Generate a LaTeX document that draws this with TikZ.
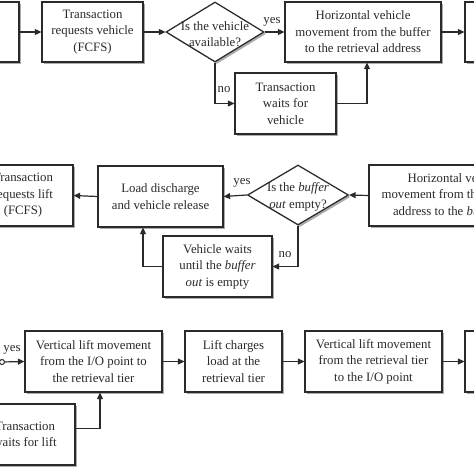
\documentclass[tikz,border=0pt]{standalone}
\usepackage{fontspec}
\setmainfont{Liberation Serif}
\usetikzlibrary{shapes.geometric,arrows.meta,shadows}
\definecolor{ink}{HTML}{2A2A2A}
\begin{document}
\begin{tikzpicture}[x=1pt,y=-1pt,
  font=\fontsize{12.8}{16.5}\selectfont,
  every node/.style={text=ink},
  shad/.style={drop shadow={shadow xshift=2pt, shadow yshift=-2pt, fill=gray!65, opacity=1}},
  box/.style={draw=ink, line width=1.25pt, fill=white, align=center, inner sep=0pt, shad},
  dia/.style={diamond, draw=ink, line width=1.25pt, fill=white, inner sep=0pt, shad},
  txt/.style={align=center, inner sep=0pt},
  arr/.style={draw=ink, line width=1.2pt, -{Triangle[length=6.5pt,width=6pt]}},
  lbl/.style={inner sep=0pt}]
\useasboundingbox (0,0) rectangle (474,474);
\clip (0,0) rectangle (474,474);
\fill[white] (0,0) rectangle (474,474);

% top row
\node[box, minimum width=79, minimum height=60] (A) at (-20.5,32) {};
\node[box, minimum width=101, minimum height=60] (B) at (92.5,32) {Transaction\\requests vehicle\\(FCFS)};
\node[dia, minimum width=98, minimum height=60] (C) at (215,32) {};
\node[txt] (Ct) at (215,34) {Is the vehicle\\available?};
\node[box, minimum width=156, minimum height=60] (D) at (363,32) {Horizontal vehicle\\movement from the buffer\\to the retrieval address};
\node[box, minimum width=80, minimum height=60] (E) at (505,32) {};
\node[box, minimum width=101, minimum height=61] (F) at (285.5,103.5) {Transaction\\waits for\\vehicle};
\node[lbl] (yes1) at (272,22) {yes};
\node[lbl] (no1) at (224,90) {no};

\draw[arr] (A.east) -- (B.west);
\draw[arr] (B.east) -- (C.west);
\draw[arr] (C.east) -- (D.west);
\draw[arr] (D.east) -- (E.west);
\draw[arr] (C.south) |- (F.west);
\draw[arr] (F.east) -| ([xshift=4pt]D.south);

% middle row
\node[box, minimum width=100, minimum height=61] (G) at (23,195.5) {Transaction\\requests lift\\(FCFS)};
\node[box, minimum width=125, minimum height=61] (H) at (160.5,196.5) {Load discharge\\and vehicle release};
\node[dia, minimum width=101, minimum height=60] (I) at (298,195) {};
\node[txt] (It) at (298,197) {Is the \textit{buffer}\\\textit{out} empty?};
\node[box, minimum width=172, minimum height=61] (J) at (455,195.5) {Horizontal vehicle\\movement from the retrieval\\address to the \textit{buffer out}};
\node[box, minimum width=109, minimum height=61] (K) at (217.5,266.5) {Vehicle waits\\until the \textit{buffer}\\\textit{out} is empty};
\node[lbl] (yes2) at (242,183) {yes};
\node[lbl] (no2) at (285,255) {no};

\draw[arr] (J.west) -- (I.east);
\draw[arr] (I.west) -- (H.east);
\draw[arr] (H.west) -- (G.east);
\draw[arr] (I.south) |- (K.east);
\draw[arr] (K.west) -| ([xshift=-17.5pt]H.south);

% bottom row
\node[circle, draw=ink, line width=1pt, fill=white, minimum size=5pt, inner sep=0pt] (Q) at (2,362) {};
\node[box, minimum width=137, minimum height=61] (L) at (93.5,361.5) {Vertical lift movement\\from the I/O point to\\the retrieval tier};
\node[box, minimum width=97, minimum height=61] (M) at (233.5,361.5) {Lift charges\\load at the\\retrieval tier};
\node[box, minimum width=137, minimum height=61] (N) at (373.5,361.5) {Vertical lift movement\\from the retrieval tier\\to the I/O point};
\node[box, minimum width=80, minimum height=61] (O) at (505,361.5) {};
\node[box, minimum width=100, minimum height=61] (P) at (25,434.5) {Transaction\\waits for lift};
\node[lbl] (yes3) at (12,350) {yes};

\draw[arr] (Q) -- (L.west);
\draw[arr] (L.east) -- (M.west);
\draw[arr] (M.east) -- (N.west);
\draw[arr] (N.east) -- (O.west);
\draw[arr] ([yshift=6pt]P.east) -| ([xshift=6.5pt]L.south);
\end{tikzpicture}
\end{document}
